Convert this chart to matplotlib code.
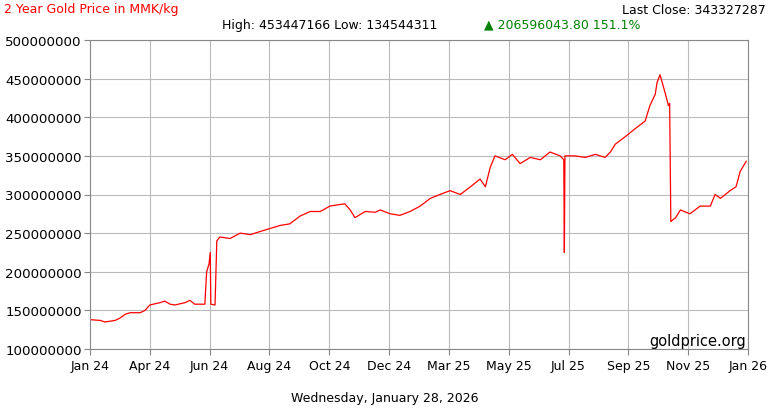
import matplotlib
matplotlib.use("Agg")
import matplotlib.pyplot as plt
from matplotlib.ticker import FuncFormatter

TICK_LABELS = ["Jan 24", "Apr 24", "Jun 24", "Aug 24", "Oct 24", "Dec 24",
               "Mar 25", "May 25", "Jul 25", "Sep 25", "Nov 25", "Jan 26"]
# x position in tick units (0 = Jan 24 ... 11 = Jan 26), price in millions MMK/kg
POS = [0.00, 0.17, 0.25, 0.42, 0.50, 0.59, 0.67, 0.84, 0.92, 1.00, 1.17, 1.25, 1.34,
       1.42, 1.59, 1.67, 1.75, 1.92, 1.95, 1.99, 2.01, 2.02, 2.09, 2.12, 2.17, 2.34,
       2.51, 2.68, 2.84, 3.18, 3.34, 3.51, 3.68, 3.85, 4.01, 4.26, 4.35, 4.43, 4.60,
       4.77, 4.85, 5.02, 5.18, 5.35, 5.52, 5.69, 5.85, 6.02, 6.19, 6.36, 6.52, 6.61,
       6.69, 6.77, 6.94, 7.06, 7.19, 7.36, 7.53, 7.69, 7.86, 7.92, 7.93, 7.94, 8.11,
       8.28, 8.45, 8.61, 8.70, 8.78, 8.95, 9.11, 9.28, 9.36, 9.45, 9.48, 9.53, 9.62,
       9.67, 9.69, 9.71, 9.79, 9.87, 10.03, 10.20, 10.37, 10.45, 10.54, 10.70, 10.80,
       10.87, 10.97]
PRICE = [138, 137, 135, 137, 140, 145, 147, 147, 150, 157, 160, 162, 158,
         157, 160, 163, 158, 158, 200, 210, 225, 158, 157, 240, 245, 243,
         250, 248, 252, 260, 262, 272, 278, 278, 285, 288, 280, 270, 278,
         277, 280, 275, 273, 278, 285, 295, 300, 305, 300, 310, 320, 310,
         335, 350, 345, 352, 340, 348, 345, 355, 350, 345, 225, 350, 350,
         348, 352, 348, 355, 365, 375, 385, 395, 415, 430, 445, 455, 430,
         415, 418, 265, 270, 280, 275, 285, 285, 300, 295, 305, 310,
         330, 343]

fig = plt.figure(figsize=(7.7, 4.1), dpi=100)
ax = fig.add_axes([90 / 770, 60 / 410, 658 / 770, 309 / 410])
ax.plot(POS, [p * 1e6 for p in PRICE], color="red", lw=0.9)
ax.set_xlim(0, 11)
ax.set_ylim(100e6, 500e6)
ax.set_xticks(range(len(TICK_LABELS)))
ax.set_xticklabels(TICK_LABELS)
ax.set_yticks([100e6 + 50e6 * i for i in range(9)])
ax.yaxis.set_major_formatter(FuncFormatter(lambda v, _: f"{v:.0f}"))
ax.grid(True, color="#bbbbbb", lw=0.8)
ax.tick_params(labelsize=9, length=4, color="#888888")
ax.tick_params(axis="y", labelsize=9.6, pad=2)
for s in ax.spines.values():
    s.set_color("#888888")

fig.text(4 / 770, 1 - 10 / 410, "2 Year Gold Price in MMK/kg", color="red", fontsize=9, va="center")
fig.text(766 / 770, 1 - 10 / 410, "Last Close: 343327287", color="black", fontsize=9, va="center", ha="right")
fig.text(222 / 770, 1 - 25 / 410, "High: 453447166 Low: 134544311", color="black", fontsize=9, va="center")
fig.text(484 / 770, 1 - 25 / 410, "\u25b2 206596043.80 151.1%", color="green", fontsize=9, va="center")
fig.text(746 / 770, 1 - 342 / 410, "goldprice.org", color="black", fontsize=10.5, ha="right", va="center")
fig.text(0.5, 1 - 399 / 410, "Wednesday, January 28, 2026", fontsize=9, ha="center", va="center")

fig.savefig("out.png", dpi=100)
